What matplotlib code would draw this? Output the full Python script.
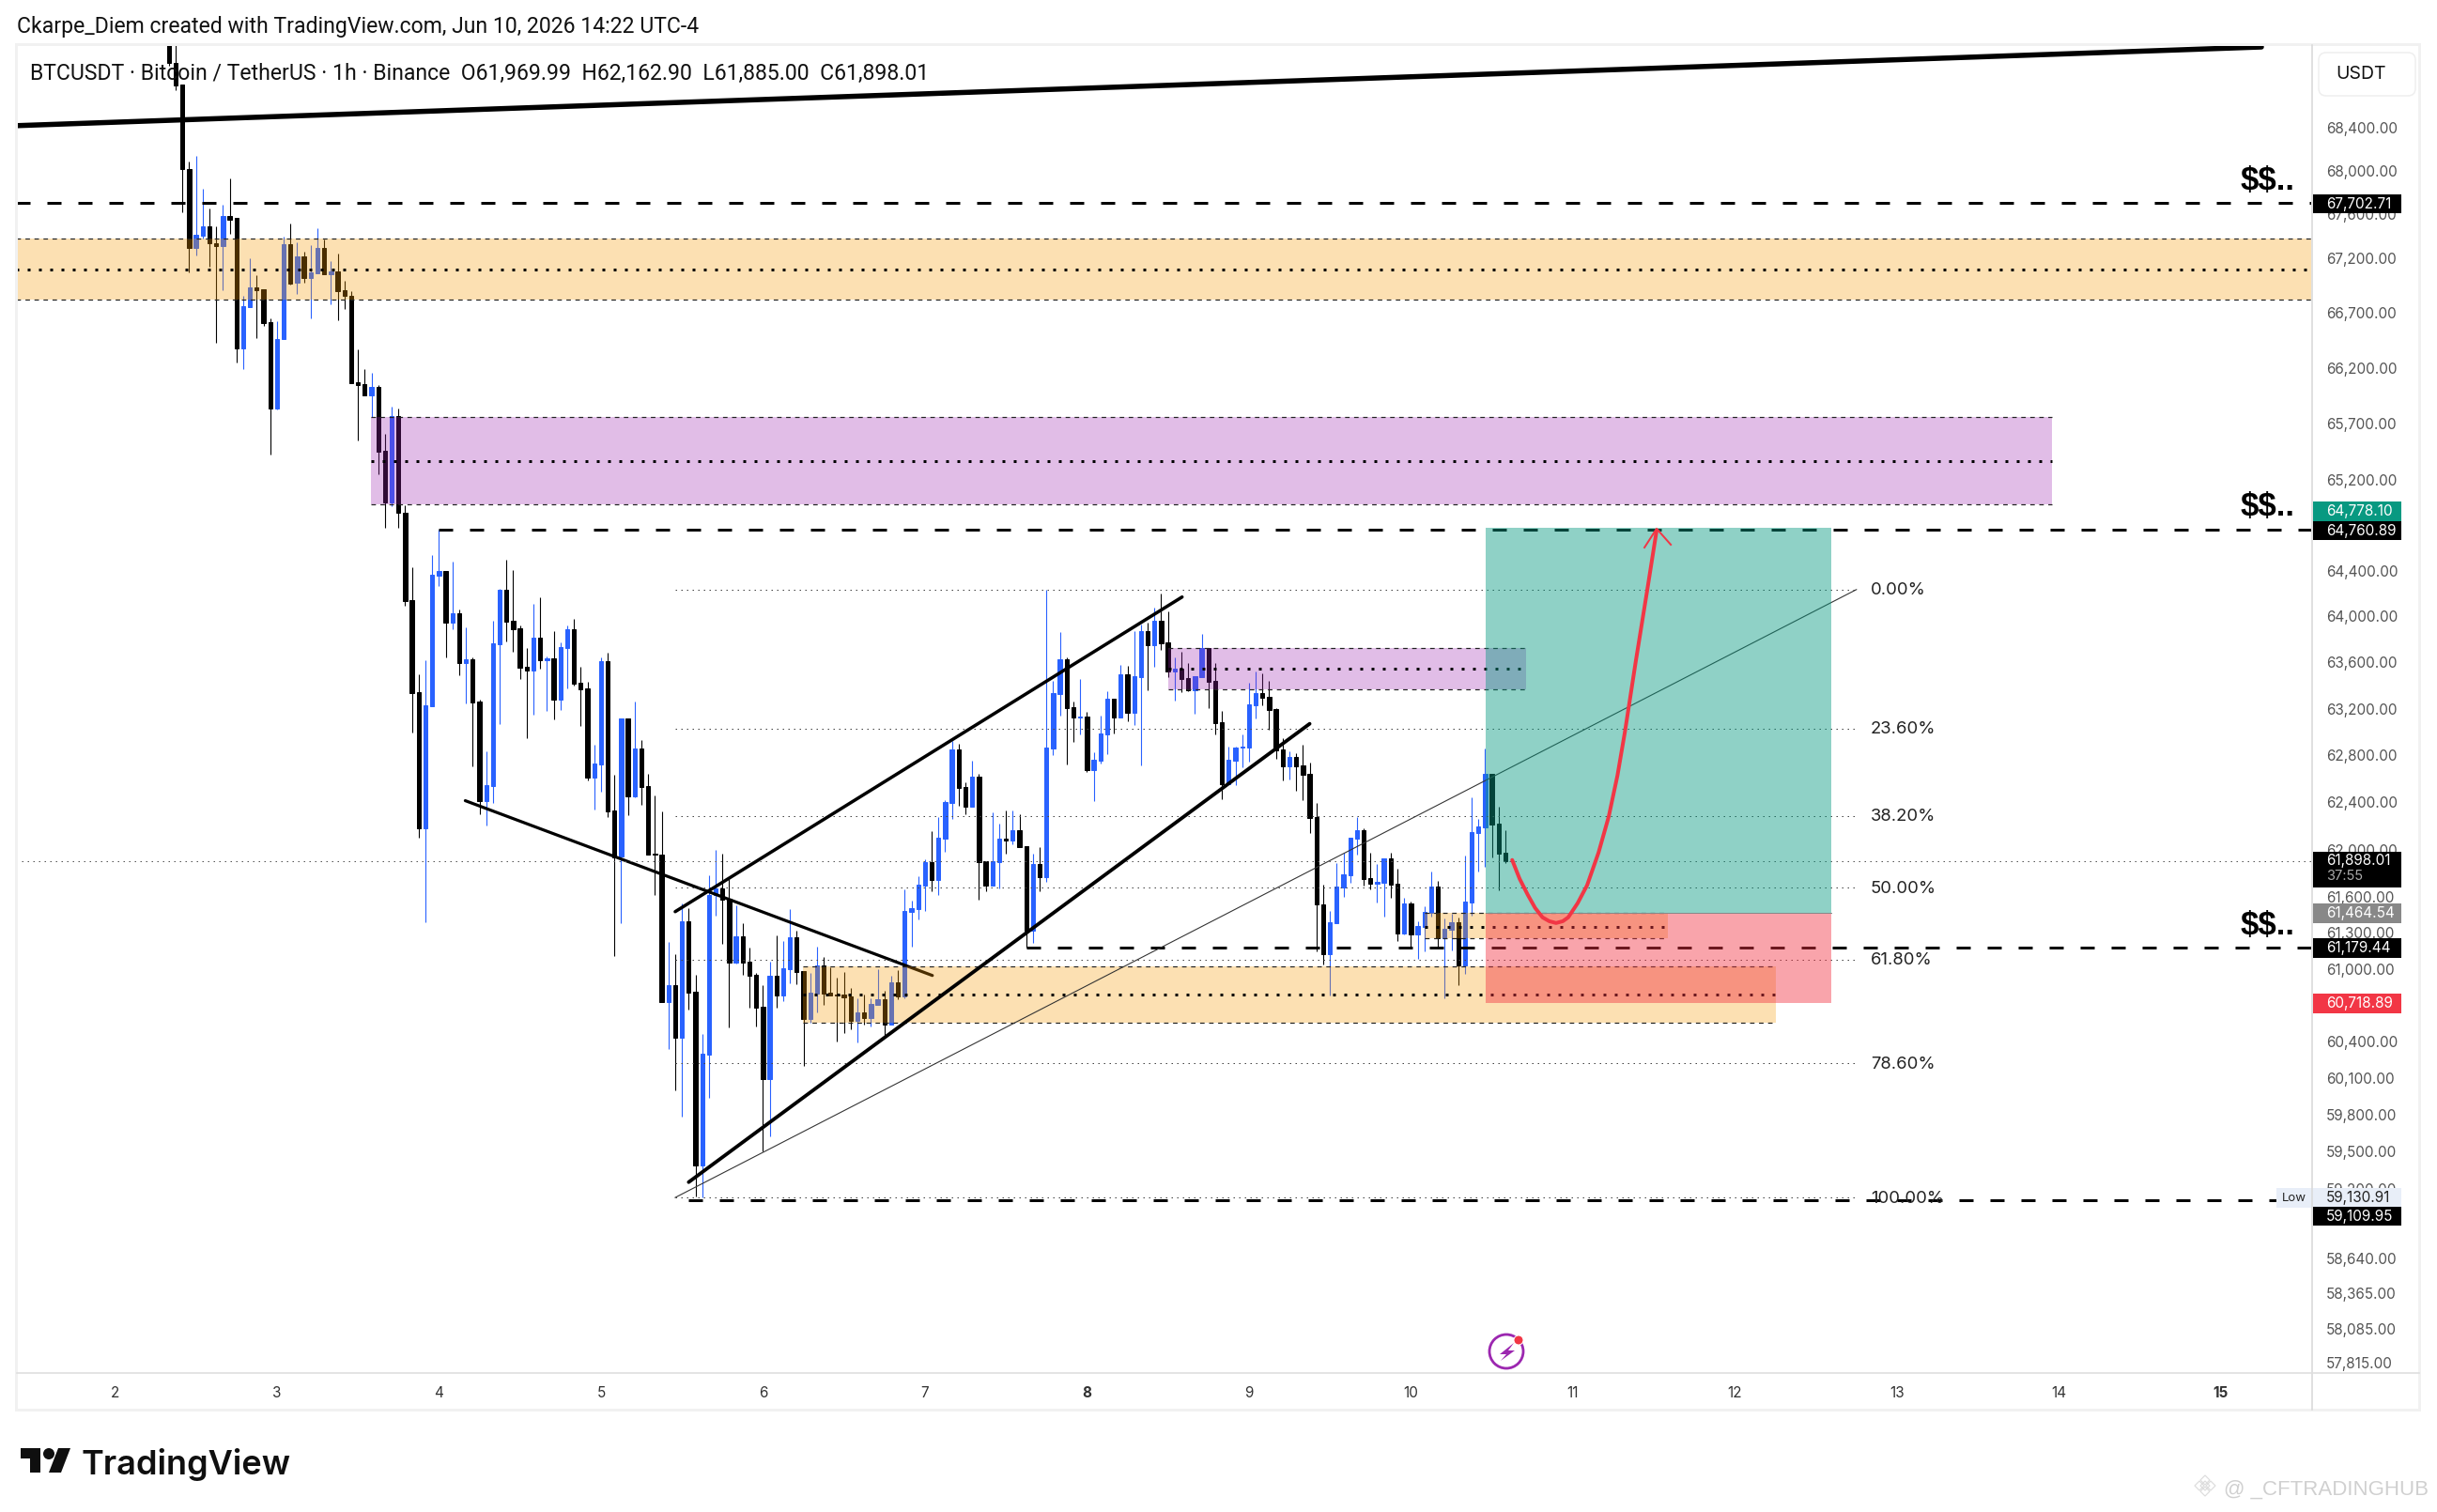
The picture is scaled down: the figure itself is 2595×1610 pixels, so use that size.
import matplotlib
matplotlib.use("Agg")
import matplotlib.pyplot as plt
from matplotlib.patches import Rectangle, Circle, Polygon, FancyBboxPatch
from matplotlib.ticker import NullLocator, NullFormatter

first_hour = 8  # hours since Jun 2 00:00
opens = [69426,69009,68806,68021,67293,67406,67492,67332,67306,67587,
67564,66379,66753,66931,66914,66617,65839,66459,67328,66974,
67216,67017,67059,67293,67051,67077,66906,66858,66074,66053,
65956,66028,65460,65002,65771,64911,64144,63346,62176,63225,
64357,64398,63948,64029,63597,63629,63265,62414,62541,63760,
64234,63964,63899,63564,63532,63817,63621,63637,63281,63727,
63890,63427,63378,62613,62725,63613,62334,61943,63120,62453,
62861,62541,61967,61959,60728,60868,60433,61398,60813,59392,
60294,61620,61675,61588,61055,61273,61062,60953,60689,60095,
60946,60782,61000,61265,60985,60588,60798,61031,60806,60790,
60790,60775,60572,60642,60596,60704,60751,60541,60891,60775,
61478,61501,61699,61896,61746,62094,62398,62853,62533,62366,
62621,61904,61699,61896,62094,62078,62166,62030,61320,61880,
61770,62861,63330,63629,63217,63128,63136,62677,62757,62982,
63289,63128,63500,63168,63475,63874,63751,63964,63776,63524,
63548,63467,63362,63475,63727,63443,63087,62557,62757,62869,
62869,63233,63338,63306,63201,62853,62709,62789,62717,62645,
62278,61541,61125,61383,61683,61786,62094,62166,61762,61715,
61722,61928,61715,61296,61549,61288,61351,61470,61691,61257,
61328,61391,61031,61557,62142,62190,62645,62222,61969.99]
highs = [69515,69203,68806,68091,68143,67838,67657,67492,67691,67930,
67564,66858,67198,67042,66914,66651,66625,67392,67518,67340,
67259,67319,67475,67366,67168,67242,66991,66897,66371,66192,
66158,66049,65612,65855,65839,64979,64430,63500,63621,64538,
64761,64398,64480,64062,63907,63645,63281,62837,63964,64242,
64496,64406,63923,63727,64111,64169,63653,63874,63776,63923,
63980,63564,63435,62894,63645,63686,62637,63120,63120,63265,
62934,62645,62461,62326,61226,61125,61549,61509,60953,60463,
61786,61999,61967,61762,61533,61383,61179,60969,60868,61062,
61281,61233,61501,61320,60985,60969,61186,61101,61016,60930,
60977,60845,60759,60790,60759,61000,60821,60946,60993,61667,
61573,61778,61920,62158,62278,62422,62926,62902,62573,62757,
62645,61904,62318,62222,62334,62334,62302,62030,61967,62022,
64234,63443,63866,63645,63265,63459,63177,62829,63144,63354,
63289,63580,63572,63874,63931,63948,64079,64201,64046,63645,
63694,63597,63483,63850,63727,63597,63184,62877,62877,62982,
63427,63524,63508,63443,63209,62950,62837,62821,62894,62741,
62398,61707,61486,61888,61975,62102,62278,62182,61975,61880,
61928,61975,61841,61596,61565,61398,61525,61817,61738,61422,
61462,61430,61951,62445,62262,62861,62645,62366,62162.90]
lows = [68986,68753,67617,67068,67224,67380,67119,66430,66906,67419,
66248,66192,66753,66473,66585,65427,65830,66459,66957,66872,
66974,66651,67059,67051,66778,66637,66736,66066,65553,65956,
65763,65251,64773,64964,64778,64095,62999,62104,61386,63225,
64267,63645,63890,63491,63249,62709,62302,62206,62398,63071,
63784,63694,63459,62950,63152,63548,63184,63112,63193,63378,
63403,63055,62589,62342,62493,62278,61109,61383,62294,62445,
62382,61959,61620,60728,60340,60003,59788,60666,59141,59131,
59941,61446,61210,60518,61047,60953,60681,60526,59506,59627,
60681,60736,60883,60876,60202,60557,60642,60704,60782,60402,
60471,60502,60394,60541,60526,60704,60433,60541,60751,60759,
61186,61415,61486,61651,61620,61983,62262,62374,62302,62366,
61580,61651,61699,61675,61967,62046,62022,61179,61218,61651,
61730,62805,63144,62725,62918,62982,62661,62414,62733,62813,
62990,63128,63096,63063,62717,63362,63564,63710,63475,63273,
63346,63354,63160,63475,63209,62982,62430,62557,62549,62701,
62749,63120,63233,63023,62773,62589,62597,62501,62422,62142,
61148,61039,60782,61383,61604,61722,61959,61699,61667,61557,
61438,61596,61233,61288,61171,61086,61148,61438,61171,60759,
61156,60868,60961,61446,61817,61857,61935,61659,61885]
closes = [69009,68798,68016,67293,67415,67492,67332,67306,67587,67553,
66379,66761,66931,66906,66611,65839,66464,67328,66968,67216,
67017,67068,67293,67051,67077,66897,66855,66066,66049,65956,
66028,65454,65002,65771,64906,64136,63338,62176,63233,64365,
64398,63948,64029,63597,63629,63257,62414,62549,63768,64234,
63956,63890,63556,63532,63817,63621,63637,63281,63735,63890,
63419,63370,62613,62733,63613,62326,61935,63120,62453,62861,
62533,61959,61959,60728,60868,60433,61398,60806,59392,60302,
61620,61675,61580,61055,61273,61055,60946,60681,60095,60946,
60782,61008,61265,60977,60588,60806,61031,60798,60782,60782,
60767,60572,60642,60596,60712,60751,60541,60891,60775,61486,
61509,61707,61896,61746,62102,62406,62853,62525,62366,62621,
61896,61699,61904,62094,62078,62166,62022,61320,61880,61770,
62869,63338,63629,63209,63128,63136,62677,62765,62990,63289,
63128,63500,63168,63483,63874,63751,63964,63768,63524,63548,
63459,63362,63483,63727,63435,63079,62557,62765,62869,62877,
63241,63338,63298,63193,62845,62709,62789,62709,62637,62270,
61541,61125,61391,61691,61793,62102,62166,61754,61715,61730,
61928,61707,61296,61549,61288,61359,61478,61691,61257,61336,
61391,61031,61565,62150,62198,62645,62214,61967,61898.01]

price_ticks = [68400,68000,67600,67200,66700,66200,65700,65200,64400,64000,63600,63200,62800,62400,
               62000,61600,61300,61000,60400,60100,59800,59500,59200,58640,58365,58085,57815]
day_ticks = list(range(2, 16))
bold_days = [8, 15]

# zones: (start hour, end hour, top, mid, bottom)
orange_zones = [(-14.6, 325.4, 67376, 67098, 66821), (101.9, 246, 61023, 60790, 60557), (194, 230, 61470, 61351, 61257)]
purple_zones = [(37.9, 287, 65763, 65368, 64985), (156, 209.1, 63727, 63548, 63370)]
# dashed levels: (start hour, price)
dashed_levels = [(-14.6, 67702.71), (48, 64760.89), (135, 61179.44), (85, 59109.95)]
last_price = 61898.01
fib_levels = [64234, 63030, 62285, 61682, 61080, 60223, 59131]
fib_names = ['0.00%', '23.60%', '38.20%', '50.00%', '61.80%', '78.60%', '100.00%']
fib_start, fib_end = 83, 258
entry_price, tp_price, sl_price = 61464.54, 64778.10, 60718.89
pos_start, pos_end = 203.07, 254.3
# trend lines: (h0, p0, h1, p1)
line_top = (-14.6, 68422, 318, 69159)
line_down = (51.9, 62414, 121.1, 60946)
line_channel_low = (85, 59255, 177, 63071)
line_channel_high = (83, 61478, 158.1, 64169)
curve_h = [207.0,208.1,209.3,210.4,211.5,212.5,213.5,214.5,215.3,216.7,218.1,219.8,221.3,222.6,223.7,225.3,227.0,228.4]
curve_p = [61912,61754,61620,61509,61430,61398,61383,61398,61430,61549,61699,61975,62278,62629,63000,63605,64226,64753]
head_h = [226.6, 228.4, 230.5]
head_p = [64603, 64769, 64628]

W, H = 2595, 1610
PX = 0.72
FONT = 'Inter'
fig = plt.figure(figsize=(W/100, H/100), dpi=100, facecolor='white')
L, R, T, B = 18, 2461, 49, 1462
ax = fig.add_axes([L/W, 1-B/H, (R-L)/W, (B-T)/H])
ax.set_yscale('log')
ax.set_xlim(-14.525, 325.37)
ax.set_ylim(57735, 69168)
for s in ax.spines.values():
    s.set_visible(False)

BLUE, BLACK = '#2962FF', '#000000'
hours = [first_hour + i for i in range(len(opens))]
for h, o, hi, lo, c in zip(hours, opens, highs, lows, closes):
    col = BLUE if c > o else BLACK
    ax.vlines(h, lo, hi, color=col, lw=1.1*PX, zorder=2)
    ax.bar(h, abs(c-o), bottom=min(o, c), width=0.6, color=col, edgecolor=col, lw=1*PX, zorder=2.1)

def seg(l, **kw):
    ax.plot([l[0], l[2]], [l[1], l[3]], solid_capstyle='round', **kw)

seg(line_down, color='black', lw=3.2*PX, zorder=2.5)

def zone(z, color):
    h0, h1, top, mid, bot = z
    ax.fill_between([h0, h1], [bot, bot], [top, top], color=color, alpha=0.3, lw=0, zorder=3)
    for p in (top, bot):
        ax.plot([h0, h1], [p, p], color='#222222', lw=1.2*PX, ls=(0, (4, 4)), dash_capstyle='butt', zorder=3.4)
    ax.plot([h0, h1], [mid, mid], color='black', lw=3*PX, ls=(0, (1, 3)), dash_capstyle='butt', zorder=3.5)

for z in orange_zones:
    zone(z, '#F79900')
for z in purple_zones:
    zone(z, '#9C27B0')

for h0, p in dashed_levels:
    ax.plot([h0, 325.37], [p, p], color='black', lw=3*PX, ls=(0, (5, 6)), dash_capstyle='butt', zorder=3.6)
ax.plot([-14.6, 325.37], [last_price]*2, color='#555555', lw=1*PX, ls=(0, (1.5, 4.5)), zorder=3.6)

for p, n in zip(fib_levels, fib_names):
    ax.plot([fib_start, fib_end], [p, p], color='#444444', lw=1*PX, ls=(0, (1.5, 4.5)), zorder=3.6)
    ax.text(260.1, p*0.99985, n, family=FONT, fontsize=13.3, color='#222222', va='center', ha='left', zorder=7)
ax.plot([fib_start, fib_end], [fib_levels[-1], fib_levels[0]], color='#333333', lw=1.1*PX, zorder=3.7)

seg(line_top, color='black', lw=5.5*PX, zorder=4)
seg(line_channel_low, color='black', lw=3.8*PX, zorder=4)
seg(line_channel_high, color='black', lw=3.5*PX, zorder=4)

ax.fill_between([pos_start, pos_end], entry_price, tp_price, color='#089981', alpha=0.45, lw=0, zorder=5)
ax.fill_between([pos_start, pos_end], sl_price, entry_price, color='#F23645', alpha=0.45, lw=0, zorder=5)
ax.plot([pos_start, pos_end], [entry_price]*2, color='#888888', lw=1*PX, zorder=5.1)

ax.plot(curve_h, curve_p, color='#F23645', lw=4*PX, solid_capstyle='round', solid_joinstyle='round', zorder=6)
ax.plot(head_h, head_p, color='#F23645', lw=2*PX, zorder=6)

for p in (67910, 64961, 61365):
    ax.text(314.8, p, '$$..', family='Liberation Sans', fontweight='bold', fontsize=25, va='center', ha='left', color='black', zorder=7, parse_math=False)

ax.yaxis.tick_right()
ax.set_yticks(price_ticks)
ax.set_yticklabels([f'{t:,.2f}' for t in price_ticks], family=FONT, fontsize=11, color='#555555')
ax.yaxis.set_minor_locator(NullLocator())
ax.yaxis.set_minor_formatter(NullFormatter())
ax.tick_params(axis='y', which='major', length=0, pad=11.5)
ax.set_xticks([(d-2)*24 for d in day_ticks])
ax.set_xticklabels([str(d) for d in day_ticks], family=FONT, fontsize=11, color='#333333')
for lab, d in zip(ax.get_xticklabels(), day_ticks):
    if d in bold_days:
        lab.set_fontweight('bold')
ax.tick_params(axis='x', length=0, pad=10)

# page overlay in pixel coordinates
ov = fig.add_axes([0, 0, 1, 1], zorder=10)
ov.set_xlim(0, W); ov.set_ylim(H, 0); ov.axis('off'); ov.patch.set_alpha(0)

ov.add_patch(Rectangle((L-1, 47), 2577-L, 1501-47, fill=False, ec='#F1F1F1', lw=3*PX))
ov.plot([R+1, R+1], [48, 1501], color='#D9D9D9', lw=1.6*PX)
ov.plot([L, 2576], [1462, 1462], color='#DEDEDE', lw=1.6*PX)

ov.add_patch(FancyBboxPatch((2473, 60), 95, 38, boxstyle='round,pad=4,rounding_size=8', fc='white', ec='#EEEEEE', lw=1.5*PX))
ov.text(2514, 79, 'USDT', family=FONT, fontsize=14, color='#111111', ha='center', va='center')

ov.text(18, 28.5, 'Ckarpe_Diem created with TradingView.com, Jun 10, 2026 14:22 UTC-4', family='Roboto', fontsize=16.6, color='#111111', va='center', ha='left')
ov.text(32, 78.5, 'BTCUSDT · Bitcoin / TetherUS · 1h · Binance  O61,969.99  H62,162.90  L61,885.00  C61,898.01', family='Roboto', fontsize=16.6, color='#111111', va='center', ha='left')

def box(y0, y1, col, txt, tcol='white', x0=2463):
    ov.add_patch(Rectangle((x0, y0), 2557-x0, y1-y0, fc=col, ec='none'))
    ov.text(2477, (y0+y1)/2, txt, family=FONT, fontsize=11, color=tcol, va='center', ha='left')

box(207, 227.5, '#000000', '67,702.71')
box(534, 555, '#089981', '64,778.10')
box(555, 575, '#000000', '64,760.89')
ov.add_patch(Rectangle((2463, 907), 94, 37.6, fc='#000000', ec='none'))
ov.text(2477, 916, '61,898.01', family=FONT, fontsize=11, color='white', va='center', ha='left')
ov.text(2477, 933, '37:55', family=FONT, fontsize=10.5, color='#AAAAAA', va='center', ha='left')
box(962, 982.6, '#888888', '61,464.54')
box(999, 1020, '#000000', '61,179.44')
box(1058, 1078.6, '#F23645', '60,718.89')
ov.add_patch(Rectangle((2424, 1265), 133, 21, fc='#E8EEF8', ec='none'))
ov.text(2430, 1275.5, 'Low', family=FONT, fontsize=9.5, color='#222222', va='center', ha='left')
ov.text(2477, 1275.5, '59,130.91', family=FONT, fontsize=11, color='#222222', va='center', ha='left')
box(1285, 1305, '#000000', '59,109.95')

# flash icon
ov.add_patch(Circle((1604, 1439), 18, fill=False, ec='#9C27B0', lw=2.8*PX))
ov.add_patch(Polygon([(1612, 1430), (1597, 1442), (1604, 1442), (1598, 1449), (1613, 1438), (1606, 1438)], fc='#9C27B0', ec='none'))
ov.add_patch(Circle((1617, 1427), 5, fc='#F23645', ec='white', lw=1*PX))

# TradingView logo
ov.add_patch(Polygon([(22, 1542), (43, 1542), (43, 1568), (32, 1568), (32, 1553), (22, 1553)], fc='#0F0F0F', ec='none'))
ov.add_patch(Circle((52, 1548), 6, fc='#0F0F0F', ec='none'))
ov.add_patch(Polygon([(62, 1542), (75, 1542), (65, 1568), (52, 1568)], fc='#0F0F0F', ec='none'))
ov.text(87, 1559, 'TradingView', family='Inter', fontweight='semibold', fontsize=26, color='#0F0F0F', va='center', ha='left')

# watermark
for dx, dy in [(0, 0), (0, -6), (0, 6), (-6, 0), (6, 0)]:
    ov.add_patch(Polygon([(2348+dx, 1577+dy), (2353+dx, 1582+dy), (2348+dx, 1587+dy), (2343+dx, 1582+dy)], fill=False, ec='#DDDDDD', lw=1.2*PX))
ov.text(2368, 1586, '@ _CFTRADINGHUB', family='Liberation Sans', fontsize=16, color='#D0D0D0', va='center', ha='left')

fig.savefig('out.png', dpi=100, facecolor='white')
